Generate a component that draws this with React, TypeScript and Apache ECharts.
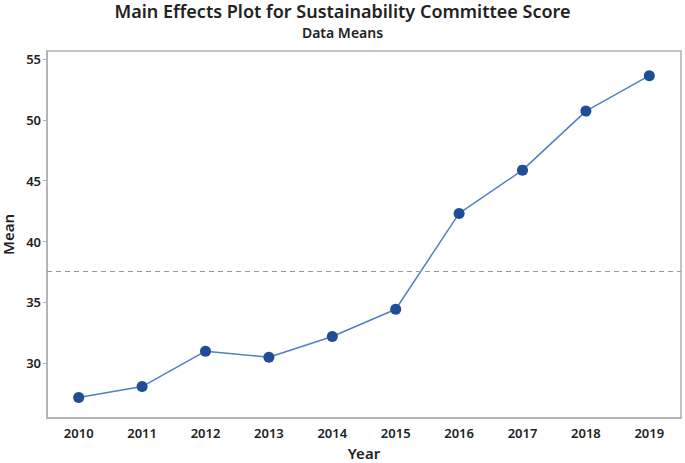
import React, { useEffect, useRef } from "react";
import * as echarts from "echarts";

const years = ["2010", "2011", "2012", "2013", "2014", "2015", "2016", "2017", "2018", "2019"];
const means = [27.18, 28.08, 30.99, 30.49, 32.2, 34.44, 42.31, 45.87, 50.72, 53.63];
const overallMean = 37.58;
const yTicks = [30, 35, 40, 45, 50, 55];

const FONT = "'Noto Sans', 'Open Sans', sans-serif";

export default function App() {
  const ref = useRef<HTMLDivElement>(null);
  useEffect(() => {
    if (!ref.current) return;
    const chart = echarts.init(ref.current, null, { renderer: "svg" });
    chart.setOption({
      animation: false,
      backgroundColor: "#ffffff",
      title: [
        {
          text: "Main Effects Plot for Sustainability Committee Score",
          left: "center",
          top: 1,
          padding: 0,
          textStyle: { fontFamily: FONT, fontSize: 18, fontWeight: 600, color: "#222", lineHeight: 20 },
        },
        {
          text: "Data Means",
          left: "center",
          top: 25,
          padding: 0,
          textStyle: { fontFamily: FONT, fontSize: 14, fontWeight: 600, color: "#222", lineHeight: 14 },
        },
      ],
      grid: {
        left: 47,
        right: 4,
        top: 51,
        bottom: 45,
        show: true,
        borderColor: "#b0b0b0",
        borderWidth: 1.5,
        containLabel: false,
        outerBoundsMode: "none",
      },
      xAxis: {
        type: "category",
        data: years,
        boundaryGap: true,
        name: "Year",
        nameLocation: "middle",
        nameGap: 27,
        nameTextStyle: { fontFamily: FONT, fontSize: 15, fontWeight: 600, color: "#222" },
        axisLine: { lineStyle: { color: "#b0b0b0", width: 1.5 } },
        axisTick: { alignWithLabel: true, length: 4, lineStyle: { color: "#b0b0b0" } },
        axisLabel: { fontFamily: FONT, fontSize: 13, fontWeight: 600, color: "#222", margin: 8 },
        splitLine: { show: false },
      },
      yAxis: {
        type: "value",
        min: 25.5,
        max: 55.66,
        name: "Mean",
        nameLocation: "middle",
        nameGap: 25,
        nameTextStyle: { fontFamily: FONT, fontSize: 15, fontWeight: 600, color: "#222" },
        axisLine: { show: true, lineStyle: { color: "#b0b0b0", width: 1.5 } },
        axisTick: { show: true, length: 4, customValues: yTicks, lineStyle: { color: "#b0b0b0" } },
        axisLabel: { fontFamily: FONT, fontSize: 13, fontWeight: 600, color: "#222", margin: 6, customValues: yTicks },
        splitLine: { show: false },
      },
      series: [
        {
          type: "line",
          data: means,
          symbol: "circle",
          symbolSize: 11,
          itemStyle: { color: "#1f4d96" },
          lineStyle: { color: "#4d82c4", width: 1.5 },
          markLine: {
            silent: true,
            symbol: "none",
            label: { show: false },
            lineStyle: { color: "#999999", type: [5, 4], width: 1.2 },
            data: [{ yAxis: overallMean }],
          },
        },
      ],
    });
    return () => chart.dispose();
  }, []);
  return <div ref={ref} style={{ width: 685, height: 463, position: "absolute", left: 0, top: 0 }} />;
}
